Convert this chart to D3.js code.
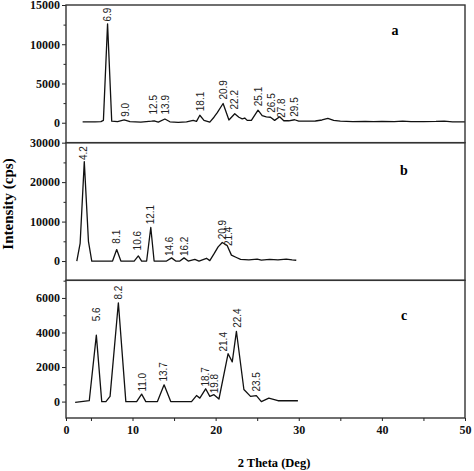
<!DOCTYPE html>
<html>
<head>
<meta charset="utf-8">
<script src="https://cdn.jsdelivr.net/npm/d3@7/dist/d3.min.js"></script>
<style>
  body { margin: 0; background: #fff; }
  .tick text { font-family: 'Liberation Serif', 'Times New Roman', serif; font-weight: bold; font-size: 12px; fill: #111; }
  .tick line { stroke: #222; }
</style>
</head>
<body>
<svg id="xrd" width="474" height="471"></svg>
<script>

// =======================
//  Data
// =======================

var panelNames = ['a', 'b', 'c'];

// pattern a
var thetaA = [4.0, 5.5, 6.2, 6.5, 7.0, 7.5, 8.2, 9.0, 9.7, 11.0, 12.3, 12.6, 13.1, 13.9, 14.5, 15.5, 16.5, 17.3, 17.7,
    18.1, 18.6, 19.3, 19.8, 20.2, 20.9, 21.6, 22.3, 22.8, 23.2, 23.5, 23.8, 24.3, 25.1, 25.6, 26.1, 26.6, 27.1, 27.7,
    28.2, 28.8, 29.5, 30.0, 31.0, 32.0, 32.8, 33.5, 34.2, 35.0, 36.5, 38.0, 39.0, 40.0, 41.5, 42.5, 43.5, 45.0, 46.5,
    47.5, 48.5, 50.0];
var countsA = [100, 100, 150, 300, 12600, 200, 150, 350, 150, 80, 200, 250, 80, 480, 120, 50, 100, 300, 180,
    950, 300, 80, 700, 1300, 2450, 350, 1150, 700, 500, 600, 300, 300, 1600, 900, 750, 700, 300, 750,
    250, 250, 380, 200, 200, 220, 350, 550, 300, 200, 150, 180, 150, 180, 150, 200, 130, 150, 160,
    200, 120, 100];
var peakTextA = ['6.9', '9.0', '12.5', '13.9', '18.1', '20.9', '22.2', '25.1', '26.5', '27.8', '29.5'];
var peakXA = [7.0, 9.2, 12.5, 14.0, 18.2, 20.9, 22.3, 25.1, 26.7, 27.9, 29.5];
var peakYA = [12900, 760, 1050, 1050, 1470, 2950, 1690, 2100, 1270, 630, 760];

// pattern b
var thetaB = [3.3, 3.7, 4.2, 4.7, 5.1, 7.6, 8.1, 8.6, 10.2, 10.7, 11.1, 11.7, 12.2, 12.6, 14.1, 14.7, 15.2, 15.7,
    16.2, 16.7, 17.5, 18.0, 18.9, 19.3, 19.8, 20.3, 20.8, 21.1, 21.4, 21.9, 22.5, 23.0, 24.0, 25.0, 25.5, 26.5,
    27.5, 28.5, 29.2, 29.7];
var countsB = [0, 4500, 25200, 5000, 0, 0, 2900, 0, 0, 1300, 0, 0, 8500, 0, 0, 800, 0, 0,
    800, 0, 400, 0, 700, 100, 1800, 3600, 4700, 4300, 3900, 1500, 900, 400, 300, 500, 250, 400,
    300, 500, 300, 200];
var peakTextB = ['4.2', '8.1', '10.6', '12.1', '14.6', '16.2', '20.9', '21.4'];
var peakXB = [4.06, 8.08, 10.6, 12.17, 14.4, 16.2, 20.8, 21.6];
var peakYB = [25600, 4400, 2700, 9300, 1270, 1270, 5500, 3800];

// pattern c
var thetaC = [3.1, 4.8, 5.65, 6.3, 6.8, 7.3, 8.3, 9.2, 10.5, 11.1, 11.6, 13.0, 13.8, 14.6, 17.1, 17.7, 18.1,
    18.8, 19.3, 19.8, 20.4, 21.5, 22.0, 22.5, 23.4, 24.2, 24.9, 25.5, 26.4, 27.5, 29.9];
var countsC = [-50, 50, 3850, 0, 0, 300, 5720, 0, 0, 430, 0, 0, 970, 0, 0, 350, 200,
    740, 300, 400, 150, 2770, 2300, 4070, 700, 300, 350, 0, 200, 50, 50];
var peakTextC = ['5.6', '8.2', '11.0', '13.7', '18.7', '19.8', '21.4', '22.4', '23.5'];
var peakXC = [5.67, 8.35, 11.16, 13.77, 18.8, 19.9, 21.0, 22.6, 24.9];
var peakYC = [4650, 5910, 580, 1160, 870, 480, 2900, 4270, 580];

// axes
var xMin = 2, xMax = 50;
var xMajorTicks = [2, 10, 20, 30, 40, 50];
var xMinorTicks = [5, 15, 25, 35, 45];
var yRangeA = [-2540, 15000], yTicksA = [0, 5000, 10000, 15000];
var yRangeB = [-4890, 30000], yTicksB = [0, 10000, 20000, 30000];
var yRangeC = [-950, 7020], yTicksC = [0, 2000, 4000, 6000];

var panels = [
    {name: panelNames[0], theta: thetaA, counts: countsA, range: yRangeA, ticks: yTicksA, peakText: peakTextA, peakX: peakXA, peakY: peakYA},
    {name: panelNames[1], theta: thetaB, counts: countsB, range: yRangeB, ticks: yTicksB, peakText: peakTextB, peakX: peakXB, peakY: peakYB},
    {name: panelNames[2], theta: thetaC, counts: countsC, range: yRangeC, ticks: yTicksC, peakText: peakTextC, peakX: peakXC, peakY: peakYC}
];

// =======================
//  Layout
// =======================

var svg = d3.select('#xrd');
var plotLeft = 66, plotRight = 465, plotTop = 5, plotBottom = 418;
var panelH = (plotBottom - plotTop) / panels.length;
var letterPos = [[395, 30], [404, 170], [404, 315]]; // panel letter positions

var x = d3.scaleLinear().domain([xMin, xMax]).range([plotLeft, plotRight]);

var line = d3.line()
    .x(d => x(d[0]))
    .y(d => d[1]);

// =======================
//  Panels
// =======================

panels.forEach(function(p, i) {
    var y0 = plotTop + i * panelH;
    var y = d3.scaleLinear().domain(p.range).range([y0 + panelH, y0]);
    var step = p.ticks[1] - p.ticks[0];
    var minor = p.ticks.map(t => t + step / 2).filter(t => t < p.range[1]);

    var g = svg.append('g').attr('class', 'panel-' + p.name);

    // minor ticks
    g.append('g')
        .attr('transform', `translate(${plotLeft},0)`)
        .call(d3.axisLeft(y).tickValues(minor).tickSize(2.5).tickFormat(''))
        .call(s => s.select('.domain').remove());

    // major ticks + labels
    g.append('g')
        .attr('transform', `translate(${plotLeft},0)`)
        .call(d3.axisLeft(y).tickValues(p.ticks).tickSize(4).tickPadding(2).tickFormat(d3.format('d')))
        .call(s => s.select('.domain').remove());

    // pattern line
    var pts = d3.zip(p.theta, p.counts).map(d => [d[0], y(d[1])]);
    g.append('path')
        .datum(pts)
        .attr('d', line)
        .style('fill', 'none')
        .style('stroke', '#111')
        .style('stroke-width', 1.3)
        .style('stroke-linejoin', 'round');

    // peak labels (rotated)
    g.selectAll('text.peak')
        .data(p.peakText)
        .join('text')
        .attr('class', 'peak')
        .attr('transform', (d, k) => `translate(${x(p.peakX[k])},${y(p.peakY[k])}) rotate(-90)`)
        .attr('dy', '0.35em')
        .style('font-family', "'Liberation Sans', Arial, sans-serif")
        .style('font-size', '10px')
        .style('fill', '#222')
        .text(d => d);

    // panel letter
    g.append('text')
        .attr('x', letterPos[i][0])
        .attr('y', letterPos[i][1])
        .attr('dy', '0.35em')
        .style('font-family', "'Liberation Serif', serif")
        .style('font-weight', 'bold')
        .style('font-size', '14px')
        .style('text-anchor', 'middle')
        .text(p.name);

    // frame
    g.append('rect')
        .attr('x', plotLeft)
        .attr('y', y0)
        .attr('width', plotRight - plotLeft)
        .attr('height', panelH)
        .style('fill', 'none')
        .style('stroke', '#333')
        .style('stroke-width', 1.4);
});

// =======================
//  X axis
// =======================

svg.append('g')
    .attr('transform', `translate(0,${plotBottom})`)
    .call(d3.axisBottom(x).tickValues(xMinorTicks).tickSize(3).tickFormat(''))
    .call(s => s.select('.domain').remove());

svg.append('g')
    .attr('transform', `translate(0,${plotBottom})`)
    .call(d3.axisBottom(x).tickValues(xMajorTicks).tickSize(3).tickPadding(4)
        .tickFormat(d => d === xMin ? '0' : d))
    .call(s => s.select('.domain').remove());

// axis titles
svg.append('text')
    .attr('transform', `translate(13,204) rotate(-90)`)
    .style('font-family', "'Liberation Serif', serif")
    .style('font-weight', 'bold')
    .style('font-size', '15px')
    .style('text-anchor', 'middle')
    .text('Intensity (cps)');

svg.append('text')
    .attr('x', 274)
    .attr('y', 467)
    .style('font-family', "'Liberation Serif', serif")
    .style('font-weight', 'bold')
    .style('font-size', '12.5px')
    .style('text-anchor', 'middle')
    .text('2 Theta (Deg)');

</script>
</body>
</html>
